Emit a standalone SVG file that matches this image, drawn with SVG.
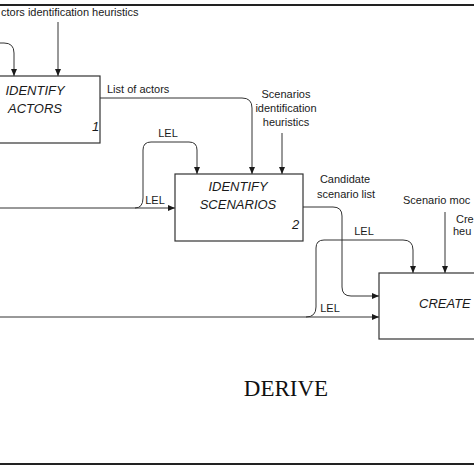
<svg xmlns="http://www.w3.org/2000/svg" width="474" height="474" viewBox="0 0 474 474">
<defs>
<marker id="ah" markerWidth="8" markerHeight="6" refX="7" refY="3" orient="auto" markerUnits="userSpaceOnUse">
<path d="M0,0 L7,3 L0,6 Z" fill="#1a1a1a"/>
</marker>
<style>
.lbl{font-family:"Liberation Sans",Arial,sans-serif;font-size:11px;fill:#1a1a1a}
.box{fill:#fff;stroke:#333;stroke-width:1.2}
.name{font-family:"Liberation Sans",Arial,sans-serif;font-size:13px;font-style:italic;fill:#1a1a1a}
.con{fill:none;stroke:#333;stroke-width:1}
.frame{stroke:#222;stroke-width:2}
</style>
</defs>
<rect width="474" height="474" fill="#fff"/>
<line class="frame" x1="0" y1="5" x2="474" y2="5"/>
<line class="frame" x1="0" y1="464" x2="474" y2="464"/>

<g id="connectors">
<path class="con" d="M0,43 H4 Q14,43 14,53 V76" marker-end="url(#ah)"/>
<path class="con" d="M58,22 V76" marker-end="url(#ah)"/>
<path class="con" d="M100,98 H242 Q252,98 252,108 V174" marker-end="url(#ah)"/>
<path class="con" d="M282,133 V174" marker-end="url(#ah)"/>
<path class="con" d="M0,208 H175" marker-end="url(#ah)"/>
<path class="con" d="M135,208 Q143,208 143,198 V150 Q143,142 151,142 H189 Q197,142 197,150 V174" marker-end="url(#ah)"/>
<path class="con" d="M303,207 H333 Q342,207 342,216 V287 Q342,296 351,296 H379" marker-end="url(#ah)"/>
<path class="con" d="M0,317 H379" marker-end="url(#ah)"/>
<path class="con" d="M306,317 Q316,317 316,307 V248 Q316,240 324,240 H403 Q413,240 413,250 V273" marker-end="url(#ah)"/>
<path class="con" d="M445,212 V273" marker-end="url(#ah)"/>
</g>

<g id="labels">
<text class="lbl" x="1" y="16">ctors identification heuristics</text>
<text class="lbl" x="107" y="93">List of actors</text>
<text class="lbl" x="286" y="98" text-anchor="middle">Scenarios</text>
<text class="lbl" x="286" y="112" text-anchor="middle">identification</text>
<text class="lbl" x="286" y="126" text-anchor="middle">heuristics</text>
<text class="lbl" x="168" y="137" text-anchor="middle">LEL</text>
<text class="lbl" x="155" y="204" text-anchor="middle">LEL</text>
<text class="lbl" x="345" y="183" text-anchor="middle">Candidate</text>
<text class="lbl" x="346" y="198" text-anchor="middle">scenario  list</text>
<text class="lbl" x="403" y="204">Scenario moc</text>
<text class="lbl" x="456" y="223">Cre</text>
<text class="lbl" x="453" y="235">heu</text>
<text class="lbl" x="364" y="235" text-anchor="middle">LEL</text>
<text class="lbl" x="330" y="312" text-anchor="middle">LEL</text>
</g>

<g id="identify-actors">
<rect class="box" x="-10" y="76" width="110" height="67"/>
<text class="name" x="35" y="95" text-anchor="middle">IDENTIFY</text>
<text class="name" x="35" y="113" text-anchor="middle">ACTORS</text>
<text class="name" x="92" y="131">1</text>
</g>

<g id="identify-scenarios">
<rect class="box" x="175" y="174" width="128" height="67"/>
<text class="name" x="238" y="191" text-anchor="middle">IDENTIFY</text>
<text class="name" x="238" y="209" text-anchor="middle">SCENARIOS</text>
<text class="name" x="292" y="229">2</text>
</g>

<g id="create">
<rect class="box" x="379" y="273" width="110" height="66"/>
<text class="name" x="419" y="308">CREATE</text>
</g>

<text x="286" y="396" text-anchor="middle" font-family="'Liberation Serif','Times New Roman',serif" font-size="23" fill="#111">DERIVE</text>
</svg>
